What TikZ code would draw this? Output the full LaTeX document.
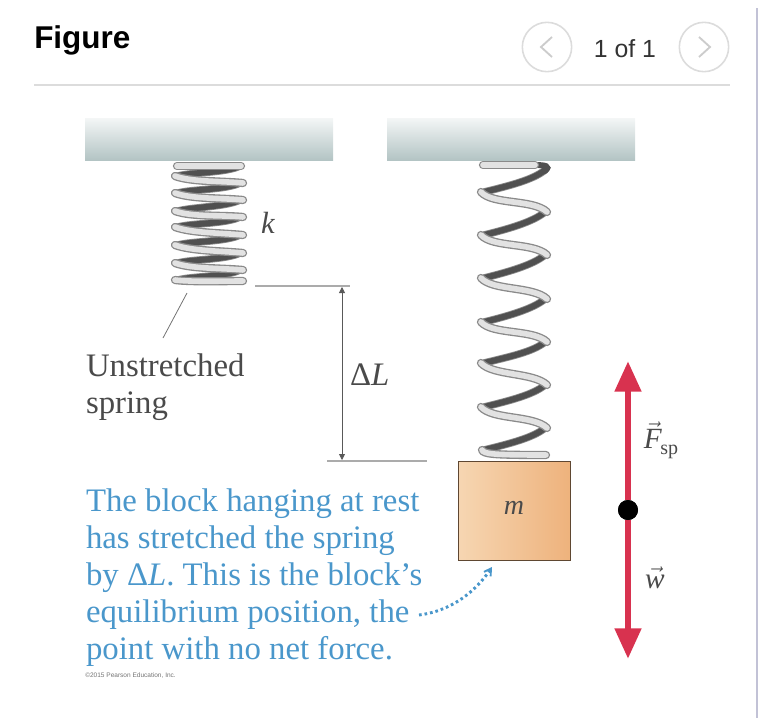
\documentclass[tikz,border=0pt]{standalone}
\usepackage{fontspec}
\setmainfont{Liberation Serif}
\newfontfamily\uisans{Liberation Sans}
\usetikzlibrary{arrows.meta}
\definecolor{textblue}{HTML}{4A97CB}
\definecolor{labelgrey}{HTML}{4A4A4A}
\definecolor{rulegrey}{HTML}{DCDCDC}
\definecolor{dimgrey}{HTML}{ABABAB}
\definecolor{forcered}{HTML}{D8324F}
\definecolor{ceilbot}{HTML}{B3C4C4}
\definecolor{blockl}{HTML}{F6D6B2}
\definecolor{blockr}{HTML}{EEB27C}
\definecolor{coildark}{HTML}{505050}
\definecolor{coiledge}{HTML}{8A8A8A}
\definecolor{coillight}{HTML}{E2E2E2}
\tikzset{
  ceil/.style={top color=white!85!ceilbot,bottom color=ceilbot,draw=none},
  fig/.style={inner sep=0pt,outer sep=0pt,font=\fontsize{24.6}{27.75}\selectfont,align=left,anchor=north west},
  figlabel/.style={fig,text=labelgrey},
  figblue/.style={fig,text=textblue},
  navcircle/.style={circle,draw=rulegrey,line width=1.2pt,minimum size=37pt,inner sep=0pt},
  chevron/.style={draw=black!20,line width=1.4pt},
  backout/.style={draw=coiledge,line width=5.6pt,line cap=round},
  backin/.style={draw=coildark,line width=4.4pt,line cap=round},
  frontout/.style={draw=coiledge,line width=6.2pt,line cap=round},
  frontin/.style={draw=coillight,line width=4.2pt,line cap=round},
  dimline/.style={draw=dimgrey,line width=1.5pt},
  dimarrow/.style={draw=black!65,line width=.6pt,{Triangle[length=4.5pt,width=4.5pt]}-{Triangle[length=4.5pt,width=4.5pt]}},
  force/.style={draw=forcered,line width=5pt,-{Triangle[length=23pt,width=19pt,fill=forcered]}},
}
\begin{document}
\begin{tikzpicture}[x=0.75pt,y=-0.75pt]
\useasboundingbox (0,0) rectangle (758,718);
% page furniture
\node[inner sep=0pt,anchor=base west,font=\uisans\bfseries\fontsize{23.6}{26}\selectfont] (title) at (34,48) {Figure};
\node[navcircle] (prev) at (547,47) {};
\node[navcircle] (next) at (704,47) {};
\draw[chevron] (552,37) -- (541,47) -- (552,57);
\draw[chevron] (699,37) -- (710,47) -- (699,57);
\node[inner sep=0pt,font=\uisans\fontsize{18.6}{22}\selectfont,text=black!80] (pager) at (625,49) {1 of 1};
\draw[draw=rulegrey,line width=1pt] (34,85) -- (730,85);
\draw[draw=blue!20!gray!40,line width=1.5pt] (757,8) -- (757,718);
% ceilings
\fill[ceil] (85,118) rectangle (333,160);
\fill[ceil] (387,118) rectangle (635,160);
% left spring
\foreach \ya/\yb in {166/176,183/193,200/211,217/227,235/245,253/263,270/280}{
  \draw[backout] (240,\ya) .. controls +(-14,7) and +(14,-4) .. (178,\yb);
  \draw[backin] (240,\ya) .. controls +(-14,7) and +(14,-4) .. (178,\yb);
}
\foreach \ya/\yb in {176/183,193/200,211/217,227/235,245/253,263/270}{
  \draw[frontout] (175,\ya) .. controls +(16,6) and +(-20,-2) .. (243,\yb);
  \draw[frontin] (175,\ya) .. controls +(16,6) and +(-20,-2) .. (243,\yb);
}
\draw[frontout] (175,280) .. controls +(16,2) and +(-20,0) .. (243,281);
\draw[frontin] (175,280) .. controls +(16,2) and +(-20,0) .. (243,281);
\draw[frontout] (177,166) -- (241,166);
\draw[frontin] (177,166) -- (241,166);
% right spring
\foreach \ya/\yb in {170/192,212/235,255/278,299/322,342/363,385/407,428/450}{
  \draw[backout] (545,\ya) .. controls +(-12,10) and +(24,-6) .. (484,\yb);
  \draw[backin] (545,\ya) .. controls +(-12,10) and +(24,-6) .. (484,\yb);
}
\foreach \ya/\yb in {192/212,235/255,278/299,322/342,363/385,407/428}{
  \draw[frontout] (481,\ya) .. controls +(12,13) and +(-14,-13) .. (547,\yb);
  \draw[frontin] (481,\ya) .. controls +(12,13) and +(-14,-13) .. (547,\yb);
}
\draw[backin] (535,165) .. controls (545,165) and (551,166) .. (545,171);
\draw[frontout] (483,165) -- (535,165);
\draw[frontin] (483,165) -- (535,165);
\draw[frontout] (482,450) .. controls (484,454) and (492,455) .. (546,455);
\draw[frontin] (482,450) .. controls (484,454) and (492,455) .. (546,455);
% block
\node[draw=black!60!blockr,line width=.9pt,left color=blockl,right color=blockr,minimum width=84.5pt,minimum height=74pt,inner sep=0pt,anchor=north west] (block) at (457.5,461) {};
\node[inner sep=0pt,font=\fontsize{21}{22}\itshape\selectfont,text=labelgrey] (mlabel) at (514,508) {m};
% k and leader
\node[figlabel,anchor=base west,font=\fontsize{23}{26}\itshape\selectfont] (klabel) at (261,233) {k};
\node[figlabel] (unstretched) at (86,354) {Unstretched\\spring};
\coordinate (leadtop) at (187,293);
\draw[draw=black!55,line width=.6pt] (leadtop) -- (163,338);
% dimension
\coordinate (dimtop) at (342,287);
\coordinate (dimbot) at (342,460);
\draw[dimline] (255,286) -- (350,286);
\draw[dimline] (327,461) -- (427,461);
\draw[dimarrow] (dimtop) -- (dimbot);
\node[figlabel,anchor=base west] (dl) at (350,385) {Δ{\itshape L}};
% blue caption
\node[figblue] (caption) at (86,489) {The block hanging at rest\\has stretched the spring\\by Δ{\itshape L}. This is the block’s\\equilibrium position, the\\point with no net force.};
\coordinate (dotstart) at (419,615);
\coordinate (dotend) at (492,567);
\draw[draw=textblue,line width=2.2pt,dash pattern=on 2pt off 2.2pt,-{Straight Barb[length=5pt,width=6pt,line width=1.4pt]}] (dotstart) .. controls (445,612) and (472,597) .. (dotend);
\node[inner sep=0pt,anchor=base west,font=\uisans\fontsize{4.9}{5}\selectfont,text=black!55] (copyright) at (85,677) {©2015 Pearson Education, Inc.};
% forces
\node[circle,fill=black,minimum size=15pt,inner sep=0pt] (dot) at (628,510) {};
\coordinate (uptip) at (628,361);
\coordinate (downtip) at (628,659);
\draw[force] (dot) -- (uptip);
\draw[force] (dot) -- (downtip);
\node[circle,fill=black,minimum size=15pt,inner sep=0pt] at (628,510) {};
\node[inner sep=0pt,font=\fontsize{22}{24}\selectfont,text=labelgrey] (fsp) at (661,440) {$\vec{\hbox{\itshape F}}$\kern-1pt\raisebox{-4pt}{\fontsize{15}{16}\selectfont sp}};
\node[inner sep=0pt,font=\fontsize{22}{24}\selectfont,text=labelgrey] (wlabel) at (655,578) {$\vec{\hbox{\itshape w}}$};
\end{tikzpicture}
\end{document}
